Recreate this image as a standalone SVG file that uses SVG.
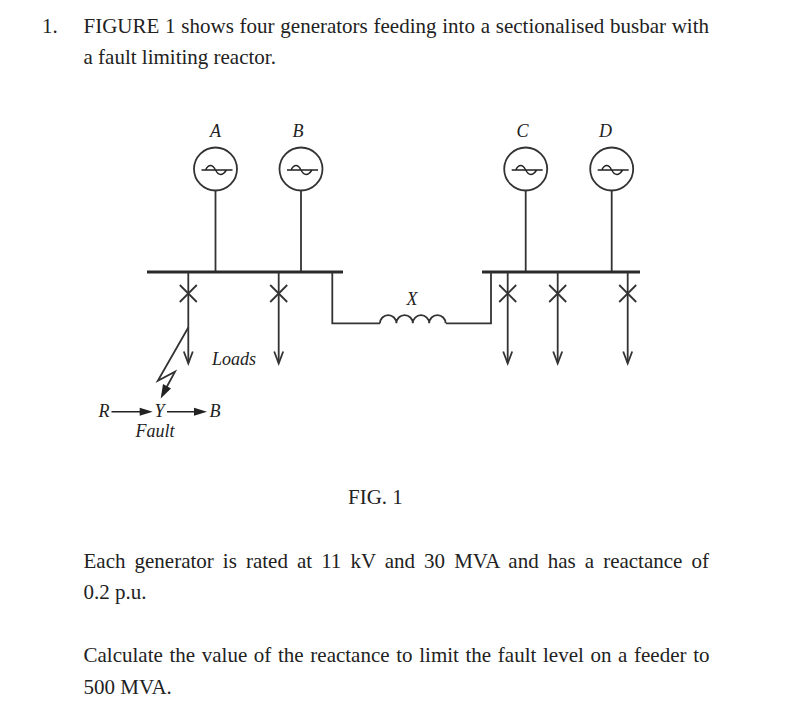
<svg xmlns="http://www.w3.org/2000/svg" width="810" height="719" viewBox="0 0 810 719">
<style>
.t{font-family:"Liberation Serif","Times New Roman",serif;font-size:21px;fill:#222}
.i{font-family:"Liberation Serif","Times New Roman",serif;font-size:18px;font-style:italic;fill:#222;text-anchor:middle}
.w{fill:none;stroke:#333;stroke-width:1.8}
.b{fill:none;stroke:#2a2a2a;stroke-width:3}
.c{fill:#fff;stroke:#333;stroke-width:1.8}
.s{fill:none;stroke:#222;stroke-width:1.4}
</style>
<defs>
<g id="gen">
<circle class="c" r="21.5"/>
<path class="s" d="M-14 1H17M-10 1C-7 -5 -3 -5 0 1C3 7 7 7 11 1"/>
</g>
<path id="brk" class="w" d="M-8.5 -8.5L8.5 8.5M-8.5 8.5L8.5 -8.5"/>
<path id="open" class="w" d="M-4.5 -12L0 0L4.5 -12"/>
<path id="solid" fill="#222" d="M0 0L-13 -4L-13 4Z"/>
</defs>
<rect width="810" height="719" fill="#fff"/>
<g id="text">
<text class="t" x="42" y="32.500">1.</text>
<text class="t" x="83.500" y="32.500" word-spacing="0.5">FIGURE 1 shows four generators feeding into a sectionalised busbar with</text>
<text class="t" x="83.500" y="63.500">a fault limiting reactor.</text>
<text class="t" x="348" y="504">FIG. 1</text>
<text class="t" x="83.500" y="567.500" word-spacing="3.8">Each generator is rated at 11 kV and 30 MVA and has a reactance of</text>
<text class="t" x="83.500" y="598.500">0.2 p.u.</text>
<text class="t" x="83.500" y="661.500" word-spacing="1.4">Calculate the value of the reactance to limit the fault level on a feeder to</text>
<text class="t" x="83.500" y="693.500">500 MVA.</text>
</g>
<g id="connectors">
<path class="w" d="M215.5 190.5V272M301 190.5V272M525.7 190.5V272M611.7 190.5V272"/>
<path class="b" d="M147 272H343M482 272H640"/>
<path class="w" d="M188.3 272V363M278.7 272V363M507.7 272V363M557.7 272V363M627.7 272V363"/>
<path class="w" d="M332.3 272V323.3H380M446 323.3H491V272"/>
<path class="w" d="M380 323.3a8.2 8.2 0 0 1 16.4 0a8.2 8.2 0 0 1 16.4 0a8.2 8.2 0 0 1 16.4 0a8.2 8.2 0 0 1 16.4 0"/>
<path class="w" d="M188.3 327.5L157.8 380.7L175 371.7L164 392"/>
<path fill="#222" d="M160.7 398.5L163 384L171 388.5Z"/>
<path class="s" d="M111.5 411.7H145M167 411.7H200"/>
<use href="#solid" x="152.7" y="411.7"/>
<use href="#solid" x="207" y="411.7"/>
<use href="#open" x="188.3" y="363.5"/>
<use href="#open" x="278.7" y="363.5"/>
<use href="#open" x="507.7" y="363.5"/>
<use href="#open" x="557.7" y="363.5"/>
<use href="#open" x="627.7" y="363.5"/>
</g>
<g id="gen-A"><use href="#gen" x="215.5" y="169"/><text class="i" x="215.5" y="136.500">A</text></g>
<g id="gen-B"><use href="#gen" x="301" y="169"/><text class="i" x="298" y="136.500">B</text></g>
<g id="gen-C"><use href="#gen" x="525.7" y="169"/><text class="i" x="522.5" y="136.500">C</text></g>
<g id="gen-D"><use href="#gen" x="611.7" y="169"/><text class="i" x="605.5" y="136.500">D</text></g>
<g id="breakers">
<use href="#brk" x="188.3" y="293.5"/>
<use href="#brk" x="278.7" y="293.5"/>
<use href="#brk" x="507.7" y="293.5"/>
<use href="#brk" x="557.7" y="293.5"/>
<use href="#brk" x="627.7" y="293.5"/>
</g>
<g id="reactor-label"><text class="i" x="412" y="305">X</text></g>
<g id="labels">
<text class="i" x="234" y="364.500">Loads</text>
<text class="i" x="104" y="417">R</text>
<text class="i" x="159.500" y="417">Y</text>
<text class="i" x="215" y="417">B</text>
<text class="i" x="155" y="437">Fault</text>
</g>
</svg>
